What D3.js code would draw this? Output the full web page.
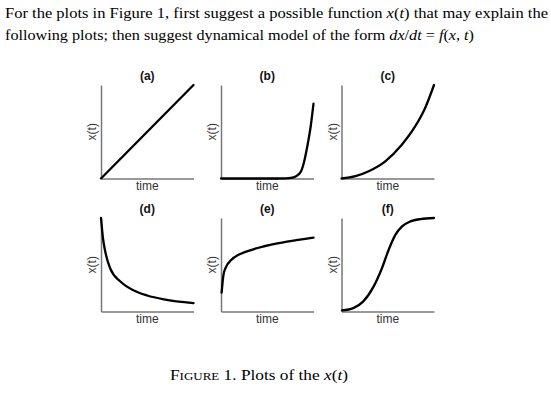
<!DOCTYPE html>
<html>
<head>
<meta charset="utf-8">
<script src="https://cdn.jsdelivr.net/npm/d3@7"></script>
<style>
  body { margin: 0; background: #fff; }
  .serif { font-family: "Liberation Serif", "DejaVu Serif", serif; fill: #000; }
  .sans { font-family: "Liberation Sans", Arial, sans-serif; }
</style>
</head>
<body>
<div id="chart"></div>
<script>
// Panel labels
const panels = ["(a)", "(b)", "(c)", "(d)", "(e)", "(f)"];

// Curves, normalised to 0..1 on both axes
const tA = [0, 1];
const xA = [0, 1];

const tB = [0, 0.5, 0.70, 0.753, 0.807, 0.862, 0.898, 0.935, 0.971, 1.0];
const xB = [0, 0, 0.002, 0.006, 0.022, 0.071, 0.177, 0.355, 0.567, 0.80];

const tC = [0, 0.151, 0.294, 0.473, 0.652, 0.796, 0.903, 1.0];
const xC = [0, 0.025, 0.078, 0.184, 0.362, 0.557, 0.752, 1.0];

const tD = [0, 0.022, 0.047, 0.101, 0.21, 0.355, 0.5, 0.681, 1];
const xD = [1, 0.78, 0.636, 0.457, 0.321, 0.225, 0.171, 0.129, 0.089];

const tE = [0.007, 0.026, 0.055, 0.110, 0.201, 0.348, 0.531, 0.714, 1.0];
const xE = [0.201, 0.388, 0.478, 0.550, 0.612, 0.665, 0.712, 0.748, 0.791];

const tF = [0.007, 0.127, 0.236, 0.345, 0.436, 0.509, 0.582, 0.655, 0.745, 0.855, 1.0];
const xF = [0.011, 0.036, 0.108, 0.263, 0.460, 0.658, 0.820, 0.910, 0.964, 0.989, 1.0];

const series = [[tA, xA], [tB, xB], [tC, xC], [tD, xD], [tE, xE], [tF, xF]];

const width = 551, height = 396;

const svg = d3.select("#chart")
  .append("svg")
    .attr("width", width)
    .attr("height", height);

// Question text at the top
const q1 = svg.append("text")
  .attr("class", "serif")
  .attr("x", 5)
  .attr("y", 17.5)
  .style("font-size", "14px")
  .attr("textLength", 543)
  .attr("lengthAdjust", "spacingAndGlyphs");
q1.append("tspan").text("For the plots in Figure 1, first suggest a possible function ");
q1.append("tspan").style("font-style", "italic").text("x");
q1.append("tspan").text("(");
q1.append("tspan").style("font-style", "italic").text("t");
q1.append("tspan").text(") that may explain the");

const q2 = svg.append("text")
  .attr("class", "serif")
  .attr("x", 5)
  .attr("y", 39.5)
  .style("font-size", "14px")
  .attr("textLength", 469)
  .attr("lengthAdjust", "spacingAndGlyphs");
q2.append("tspan").text("following plots; then suggest dynamical model of the form ");
q2.append("tspan").style("font-style", "italic").text("dx");
q2.append("tspan").text("/");
q2.append("tspan").style("font-style", "italic").text("dt");
q2.append("tspan").text(" = ");
q2.append("tspan").style("font-style", "italic").text("f");
q2.append("tspan").text("(");
q2.append("tspan").style("font-style", "italic").text("x");
q2.append("tspan").text(", ");
q2.append("tspan").style("font-style", "italic").text("t");
q2.append("tspan").text(")");

// Small multiples
const colX = [101, 221, 341.5], rowY = [85, 218];
const pw = 92.5, ph = 93.5;

series.forEach((s, i) => {
  const x0 = colX[i % 3], y0 = rowY[Math.floor(i / 3)];
  const g = svg.append("g").attr("transform", `translate(${x0},${y0})`);

  const x = d3.scaleLinear().domain([0, 1]).range([0, pw]);
  const y = d3.scaleLinear().domain([0, 1]).range([ph, 0]);

  // axes without ticks
  g.append("g")
    .attr("transform", `translate(0,${ph})`)
    .call(d3.axisBottom(x).tickValues([]).tickSizeOuter(0));
  g.append("g")
    .call(d3.axisLeft(y).tickValues([]).tickSizeOuter(0));
  g.selectAll(".domain").attr("stroke", "#777").attr("stroke-width", 1.5);

  const pts = s[0].map((t, k) => [t, s[1][k]]);
  g.append("path")
    .datum(pts)
    .attr("fill", "none")
    .attr("stroke", "#000")
    .attr("stroke-width", 2.3)
    .attr("stroke-linecap", "round")
    .attr("d", d3.line().x(d => x(d[0])).y(d => y(d[1])).curve(d3.curveMonotoneX));

  // panel title
  g.append("text")
    .attr("class", "sans")
    .attr("x", pw / 2)
    .attr("y", -5.5)
    .attr("text-anchor", "middle")
    .style("font-size", "12px")
    .style("font-weight", "bold")
    .attr("fill", "#111")
    .text(panels[i]);

  // x label
  g.append("text")
    .attr("class", "sans")
    .attr("x", pw / 2)
    .attr("y", ph + 11.5)
    .attr("text-anchor", "middle")
    .style("font-size", "12px")
    .attr("fill", "#333")
    .text("time");

  // y label
  g.append("text")
    .attr("class", "sans")
    .attr("transform", `translate(-5,${ph / 2}) rotate(-90)`)
    .attr("text-anchor", "middle")
    .style("font-size", "12px")
    .attr("fill", "#333")
    .text("x(t)");
});

// Caption
const cap = svg.append("text")
  .attr("class", "serif")
  .attr("x", 170)
  .attr("y", 379.5)
  .style("font-size", "14px")
  .attr("textLength", 178)
  .attr("lengthAdjust", "spacingAndGlyphs");
cap.append("tspan").text("F");
cap.append("tspan").style("font-size", "10.5px").text("IGURE");
cap.append("tspan").text(" 1.  Plots of the ");
cap.append("tspan").style("font-style", "italic").text("x");
cap.append("tspan").text("(");
cap.append("tspan").style("font-style", "italic").text("t");
cap.append("tspan").text(")");
</script>
</body>
</html>
